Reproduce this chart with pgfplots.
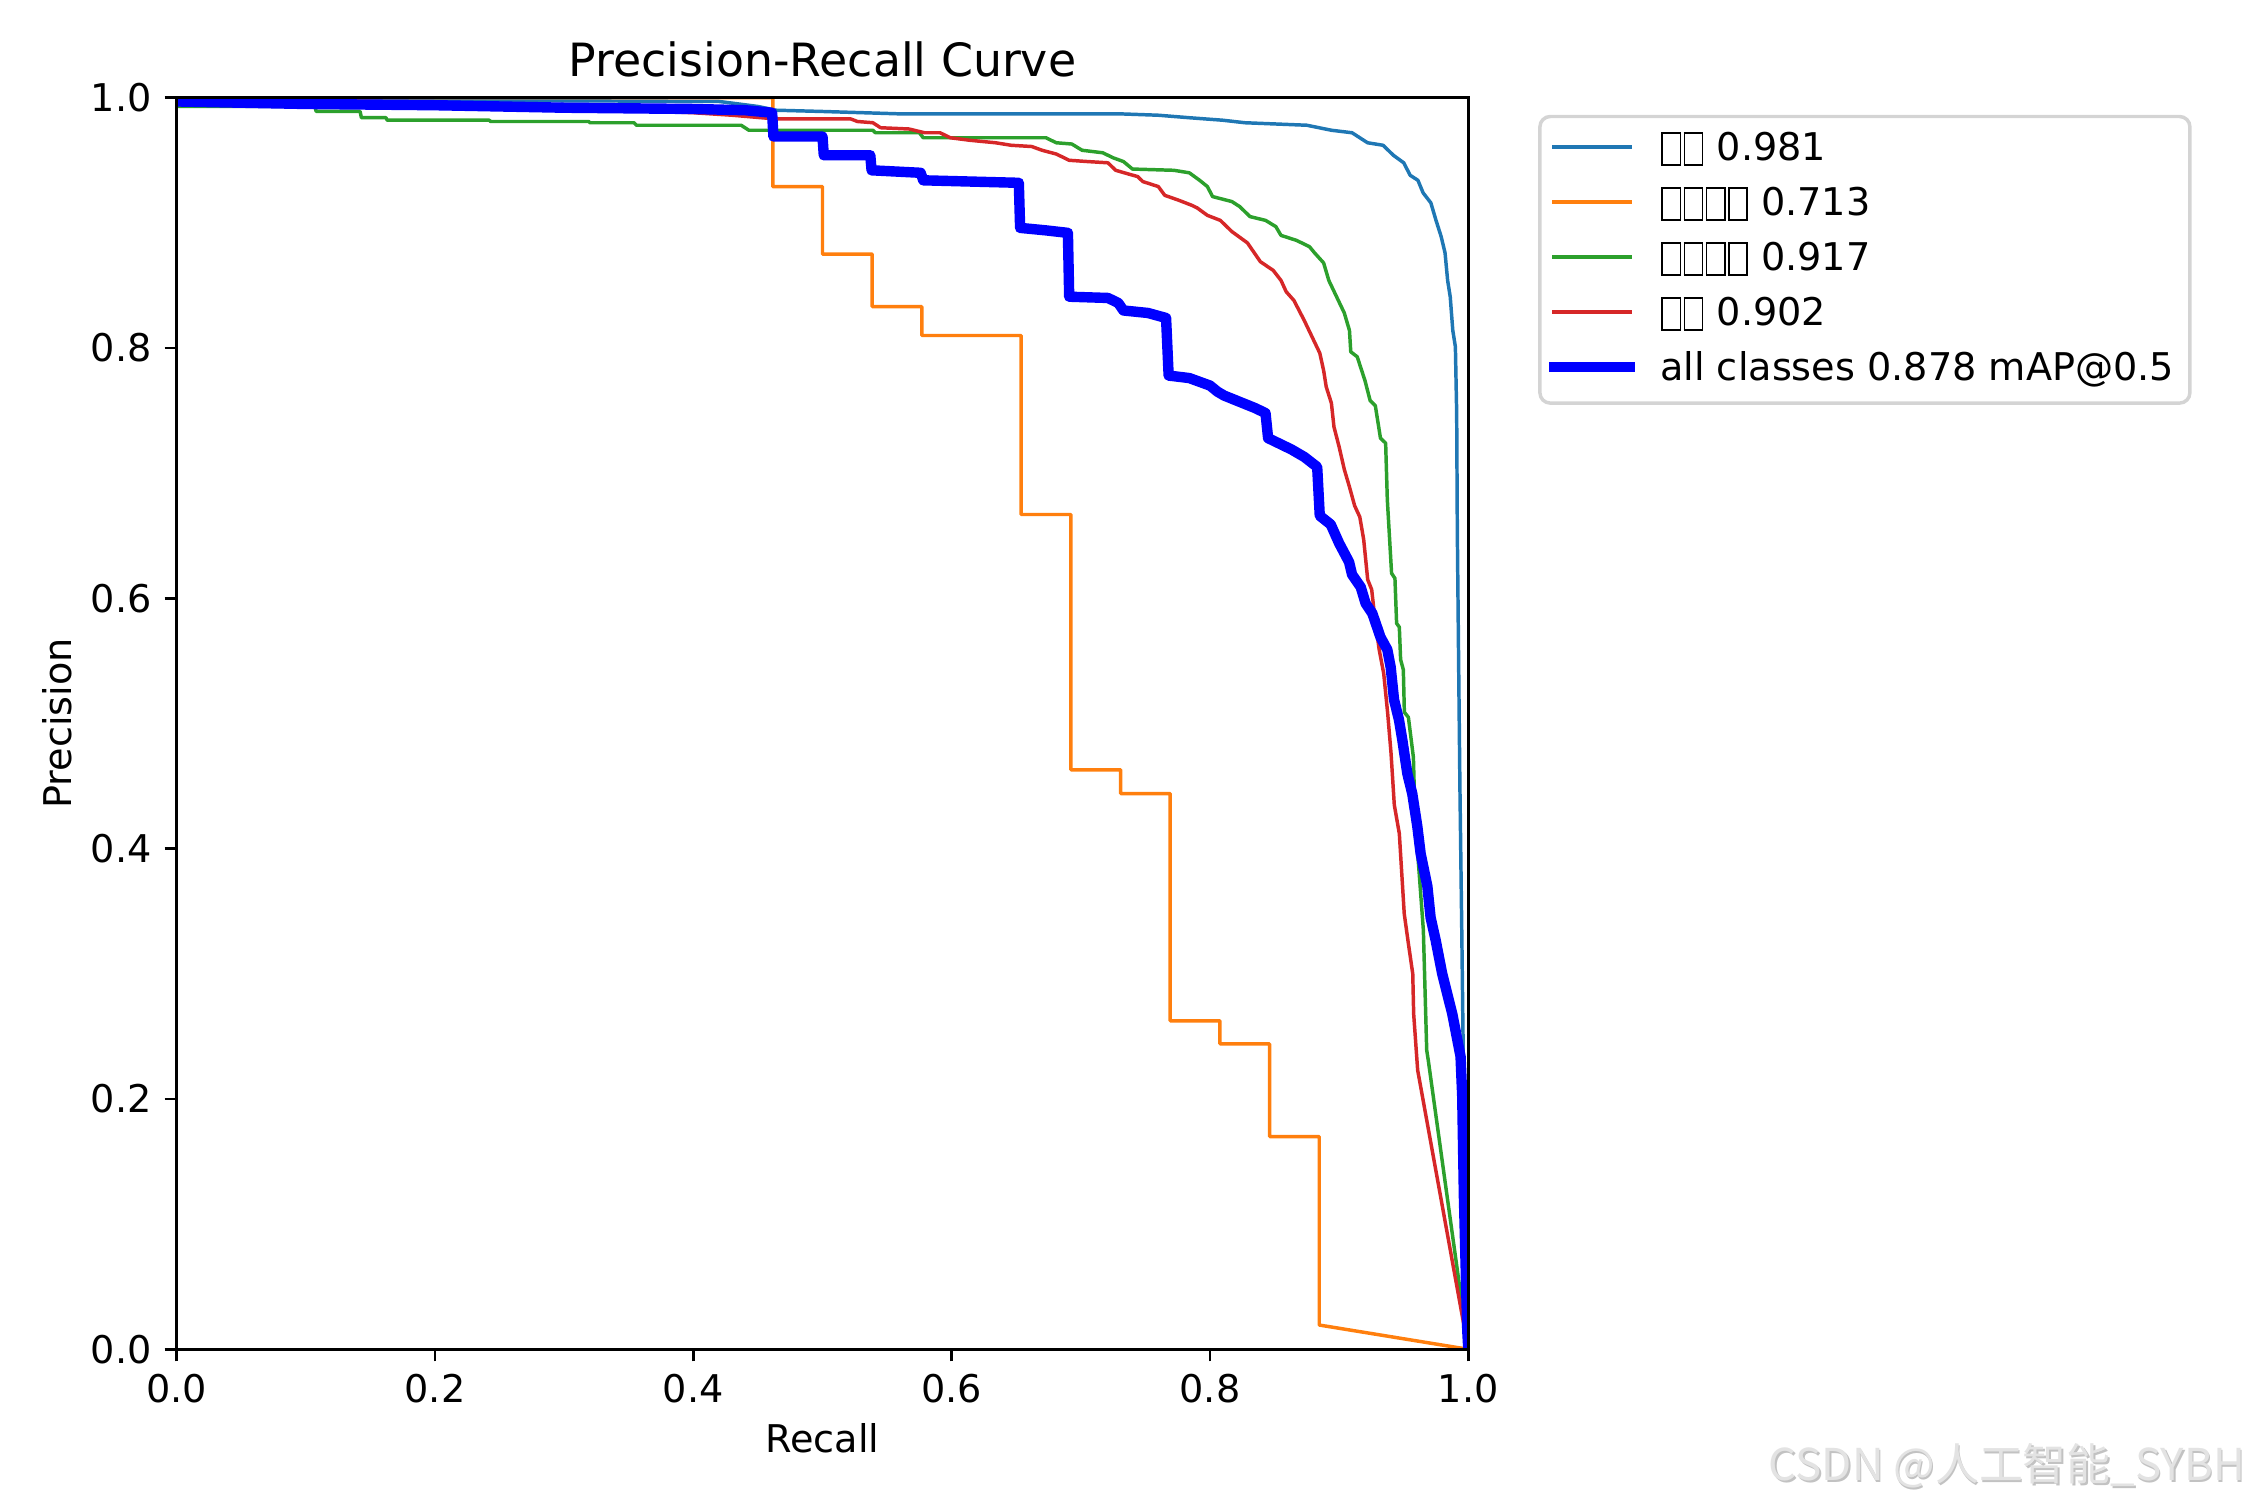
\documentclass[border=0pt]{standalone}
\usepackage{fontspec}
\setmainfont{DejaVu Sans}
\newfontfamily\cjk{Noto Sans CJK SC}
\usepackage{pgfplots}
\pgfplotsset{compat=1.18}
\definecolor{c0}{HTML}{1F77B4}
\definecolor{c1}{HTML}{FF7F0E}
\definecolor{c2}{HTML}{2CA02C}
\definecolor{c3}{HTML}{D62728}
\definecolor{legframe}{HTML}{D4D4D4}
\newcommand\tofu{\kern0.35pt{\setlength\fboxsep{0pt}\setlength\fboxrule{0.45pt}\fbox{\rule[-1.0pt]{0pt}{8.7pt}\hspace{4.8pt}}}\kern0.35pt}
\newcommand\elf{\fontsize{11}{13.2}\selectfont}
\begin{document}
\begin{tikzpicture}
\useasboundingbox (-50.89pt,-43.40pt) rectangle (597.11pt,388.60pt);
\begin{axis}[
  at={(0pt,0pt)}, anchor=south west,
  scale only axis, width=371.98pt, height=360.46pt,
  xmin=0, xmax=1, ymin=0, ymax=1,
  axis on top,
  axis line style={line width=0.8pt, black},
  xtick={0,0.2,0.4,0.6,0.8,1.0},
  xticklabels={0.0,0.2,0.4,0.6,0.8,1.0},
  ytick={0,0.2,0.4,0.6,0.8,1.0},
  yticklabels={0.0,0.2,0.4,0.6,0.8,1.0},
  xtick pos=bottom, ytick pos=left,
  tick align=outside,
  major tick length=3.5pt,
  every tick/.style={line width=0.8pt, black},
  tick label style={font=\elf, inner sep=0pt},
  xticklabel shift=3.5pt, yticklabel shift=3.5pt,
  title={Precision-Recall Curve},
  title style={font=\fontsize{13.2}{15.8}\selectfont, at={(0.5,1)}, anchor=base, yshift=0.2pt, inner sep=0pt},
  xlabel={Recall},
  xlabel style={font=\elf, at={([yshift=-29.8pt]axis description cs:0.5,0)}, anchor=base, inner sep=0pt},
  ylabel={Precision},
  ylabel style={font=\elf, at={([xshift=-30.2pt]axis description cs:0,0.5)}, anchor=base, inner sep=0pt},
  legend cell align=left,
  legend image code/.code={\draw[#1] (0pt,0pt) -- (22pt,0pt);},
  legend style={at={(1.0498,0.9862)}, anchor=north west,
    draw=none, fill=none,
    font=\elf, inner xsep=4.4pt, inner ysep=4.6pt, row sep=7.04pt,
    nodes={inner sep=0pt, text height=8.36pt, text depth=0.44pt},
    /tikz/every odd column/.append style={column sep=7.15pt}},
]
\addplot[c0, line width=1pt, line join=round, line cap=rect] coordinates {
(0,0.998) (0.2,0.998) (0.42,0.997) (0.45,0.993) (0.464,0.990) (0.5,0.989) (0.563,0.987) (0.733,0.987) (0.76,0.986) (0.784,0.984) (0.81,0.982) (0.827,0.980) (0.875,0.978) (0.894,0.974) (0.910,0.972) (0.922,0.964) (0.934,0.962) (0.942,0.954) (0.950,0.948) (0.955,0.938) (0.961,0.934) (0.965,0.924) (0.971,0.916) (0.975,0.902) (0.979,0.889) (0.982,0.876) (0.984,0.854) (0.986,0.841) (0.988,0.814) (0.990,0.801) (0.991,0.748) (0.9915,0.654) (0.9925,0.55) (0.9935,0.45) (0.995,0.33) (0.9965,0.2) (0.998,0.1) (1,0)
};
\addlegendentry{\tofu\tofu{} 0.981}
\addplot[c1, line width=1pt, line join=round, line cap=rect] coordinates {
(0,1) (0.4615,1) (0.4615,0.929) (0.5,0.929) (0.5,0.875) (0.5385,0.875) (0.5385,0.833) (0.5769,0.833) (0.5769,0.810) (0.6538,0.810) (0.6538,0.667) (0.6923,0.667) (0.6923,0.463) (0.7308,0.463) (0.7308,0.444) (0.7692,0.444) (0.7692,0.2625) (0.8077,0.2625) (0.8077,0.244) (0.8462,0.244) (0.8462,0.170) (0.8846,0.170) (0.8846,0.0194) (1,0)
};
\addlegendentry{\tofu\tofu\tofu\tofu{} 0.713}
\addplot[c2, line width=1pt, line join=round, line cap=rect] coordinates {
(0,0.993) (0.107,0.993) (0.108,0.989) (0.142,0.989) (0.143,0.984) (0.162,0.984) (0.163,0.982) (0.242,0.982) (0.243,0.981) (0.319,0.981) (0.320,0.980) (0.354,0.980) (0.356,0.978) (0.437,0.978) (0.443,0.974) (0.539,0.974) (0.541,0.972) (0.575,0.972) (0.578,0.968) (0.673,0.968) (0.681,0.964) (0.693,0.963) (0.701,0.958) (0.717,0.956) (0.725,0.952) (0.733,0.949) (0.740,0.943) (0.772,0.942) (0.784,0.940) (0.792,0.934) (0.798,0.929) (0.802,0.921) (0.817,0.917) (0.823,0.913) (0.831,0.905) (0.843,0.902) (0.851,0.897) (0.855,0.890) (0.867,0.886) (0.877,0.881) (0.881,0.876) (0.888,0.868) (0.892,0.854) (0.898,0.841) (0.904,0.828) (0.908,0.814) (0.909,0.797) (0.914,0.793) (0.920,0.774) (0.924,0.758) (0.928,0.754) (0.932,0.728) (0.936,0.724) (0.9373,0.679) (0.9406,0.620) (0.9432,0.616) (0.9445,0.580) (0.9466,0.577) (0.9476,0.551) (0.9497,0.543) (0.9505,0.509) (0.9536,0.505) (0.9575,0.473) (0.9588,0.423) (0.962,0.38) (0.9652,0.335) (0.9678,0.239) (0.969,0.231) (1,0)
};
\addlegendentry{\tofu\tofu\tofu\tofu{} 0.917}
\addplot[c3, line width=1pt, line join=round, line cap=rect] coordinates {
(0,1.0) (0.15,0.997) (0.3,0.992) (0.4,0.988) (0.43,0.986) (0.464,0.983) (0.522,0.983) (0.527,0.981) (0.539,0.980) (0.545,0.976) (0.567,0.975) (0.579,0.972) (0.591,0.972) (0.599,0.968) (0.614,0.966) (0.634,0.964) (0.646,0.962) (0.662,0.961) (0.670,0.958) (0.681,0.955) (0.691,0.950) (0.705,0.949) (0.721,0.948) (0.727,0.942) (0.737,0.939) (0.744,0.937) (0.748,0.933) (0.760,0.929) (0.765,0.922) (0.776,0.918) (0.786,0.914) (0.790,0.912) (0.798,0.906) (0.808,0.902) (0.817,0.893) (0.829,0.884) (0.833,0.878) (0.839,0.869) (0.849,0.862) (0.855,0.854) (0.859,0.845) (0.865,0.838) (0.873,0.822) (0.879,0.809) (0.885,0.796) (0.888,0.782) (0.890,0.769) (0.894,0.756) (0.896,0.737) (0.900,0.721) (0.904,0.703) (0.908,0.689) (0.912,0.674) (0.916,0.665) (0.919,0.647) (0.9221,0.615) (0.9252,0.607) (0.9278,0.583) (0.931,0.559) (0.9345,0.540) (0.9376,0.508) (0.9402,0.476) (0.9427,0.435) (0.9466,0.412) (0.9504,0.348) (0.9535,0.325) (0.957,0.300) (0.9577,0.268) (0.9608,0.223) (1,0)
};
\addlegendentry{\tofu\tofu{} 0.902}
\addplot[blue, line width=3pt, line join=round, line cap=rect] coordinates {
(0,0.997) (0.1,0.995) (0.2,0.994) (0.3,0.992) (0.4,0.991) (0.44,0.990) (0.461,0.988) (0.462,0.969) (0.500,0.969) (0.501,0.954) (0.537,0.954) (0.538,0.942) (0.576,0.940) (0.578,0.934) (0.652,0.932) (0.653,0.896) (0.673,0.894) (0.690,0.892) (0.691,0.841) (0.721,0.840) (0.729,0.836) (0.733,0.830) (0.752,0.828) (0.766,0.824) (0.768,0.778) (0.784,0.776) (0.800,0.770) (0.806,0.765) (0.811,0.762) (0.823,0.757) (0.835,0.752) (0.843,0.748) (0.845,0.728) (0.855,0.723) (0.863,0.719) (0.873,0.713) (0.883,0.705) (0.885,0.666) (0.8935,0.659) (0.900,0.644) (0.9077,0.629) (0.910,0.619) (0.9167,0.609) (0.9205,0.596) (0.9257,0.588) (0.932,0.569) (0.9373,0.559) (0.9399,0.545) (0.9425,0.519) (0.9463,0.503) (0.9489,0.487) (0.9528,0.460) (0.9566,0.444) (0.9605,0.418) (0.9631,0.396) (0.9683,0.370) (0.9708,0.345) (0.9747,0.327) (0.9798,0.300) (0.9876,0.268) (0.994,0.234) (0.9953,0.202) (0.9966,0.122) (0.9992,0.015) (1,0)
};
\addlegendentry{all classes 0.878 mAP@0.5}
\end{axis}
\draw[legframe, line width=1pt, rounded corners=3pt] (392.6pt,272.5pt) rectangle (579.8pt,355.05pt);
\node[anchor=east, inner sep=0pt, text=black!24, font=\cjk\fontsize{12.65}{15}\selectfont] at (596.3pt,-34.0pt) {CSDN @人工智能\_SYBH};
\node[anchor=east, inner sep=0pt, text=black!11, font=\cjk\fontsize{12.65}{15}\selectfont] at (595.9pt,-33.6pt) {CSDN @人工智能\_SYBH};
\end{tikzpicture}
\end{document}
